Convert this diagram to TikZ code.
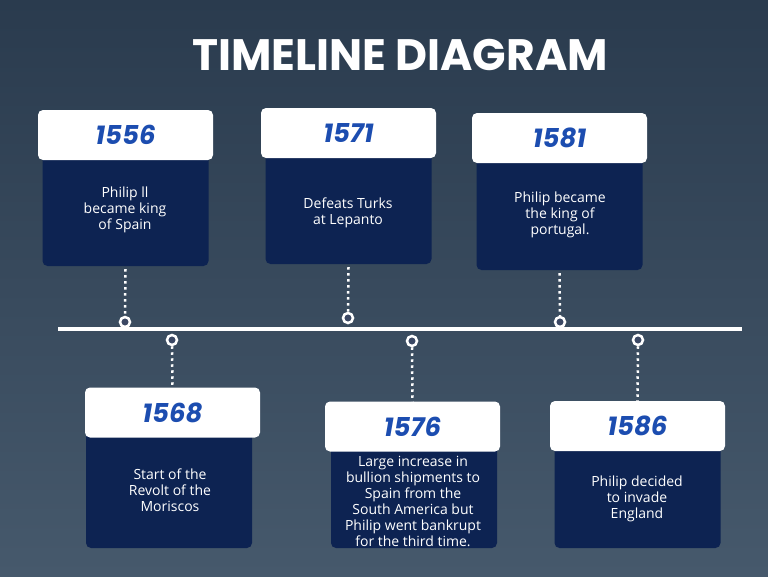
\documentclass[tikz,border=0pt]{standalone}
\usepackage{fontspec}
\setmainfont{Poppins}
\newfontfamily\bodyfont{Open Sans}
\begin{document}
\begin{tikzpicture}[x=1pt,y=-1pt,
  hdr/.style={fill=white,rounded corners=5pt,minimum width=175pt,minimum height=50pt,inner sep=0pt,font=\fontsize{26}{28}\bfseries\itshape\selectfont,text=yearblue},
  body/.style={fill=navy,rounded corners=5pt,minimum width=166pt,inner sep=0pt},
  txt/.style={text=white,font=\bodyfont\fontsize{14}{16}\selectfont,align=center},
  dots/.style={white,line width=2.5pt,dash pattern=on 2.5pt off 3.5pt},
  ring/.style={circle,draw=white,line width=2.5pt,fill=navy!60!gray,minimum size=10pt,inner sep=0pt}]
\definecolor{navy}{HTML}{0D2352}
\definecolor{yearblue}{HTML}{1C4DB0}
\definecolor{bgA}{HTML}{2A3B4E}
\definecolor{bgB}{HTML}{46596C}
\shade[top color=bgA,bottom color=bgB] (0,0) rectangle (768,576);
\useasboundingbox (0,0) rectangle (768,576);
\node[text=white,font=\fontsize{44}{46}\bfseries\selectfont] (title) at (400,55) {TIMELINE DIAGRAM};
\draw[white,line width=4pt] (58,329) coordinate (l1) -- (742,329) coordinate (l2);
% top
\node[body,minimum height=116pt] (b1) at (125.5,208) {};
\node[hdr] (h1) at (125.5,135) {1556};
\node[txt] (t1) at (125,210) {Philip ll\\became king\\of Spain};
\node[body,minimum height=114pt] (b2) at (348.5,207) {};
\node[hdr] (h2) at (348.5,133) {1571};
\node[txt] (t2) at (348,213) {Defeats Turks\\at Lepanto};
\node[body,minimum height=120pt] (b3) at (559.5,210) {};
\node[hdr] (h3) at (559.5,138) {1581};
\node[txt] (t3) at (560,215) {Philip became\\the king of\\portugal.};
\node[ring] (c1) at (125,322) {};
\node[ring] (c2) at (348,318) {};
\node[ring] (c3) at (560,322) {};
\draw[dots] (b1.south) ++(0,3) -- (c1.north);
\draw[dots] (b2.south) ++(0,3) -- (c2.north);
\draw[dots] (b3.south) ++(0,3) -- (c3.north);
% bottom
\node[body,minimum height=118pt] (b4) at (169,489) {};
\node[hdr] (h4) at (172.5,412.5) {1568};
\node[txt] (t4) at (170,490) {Start of the\\Revolt of the\\Moriscos};
\node[body,minimum height=103pt] (b5) at (414,496.5) {};
\node[hdr] (h5) at (412.5,426.5) {1576};
\node[txt] (t5) at (413,501) {Large increase in\\bullion shipments to\\Spain from the\\South America but\\Philip went bankrupt\\for the third time.};
\node[body,minimum height=103pt] (b6) at (637.5,496.5) {};
\node[hdr] (h6) at (637.5,426) {1586};
\node[txt] (t6) at (637,499) {Philip decided\\to invade\\England};
\node[ring] (c4) at (172,340) {};
\node[ring] (c5) at (412,341) {};
\node[ring] (c6) at (638,340) {};
\draw[dots] (c4.south) -- (h4.north);
\draw[dots] (c5.south) -- (h5.north);
\draw[dots] (c6.south) -- (h6.north);
\end{tikzpicture}
\end{document}
